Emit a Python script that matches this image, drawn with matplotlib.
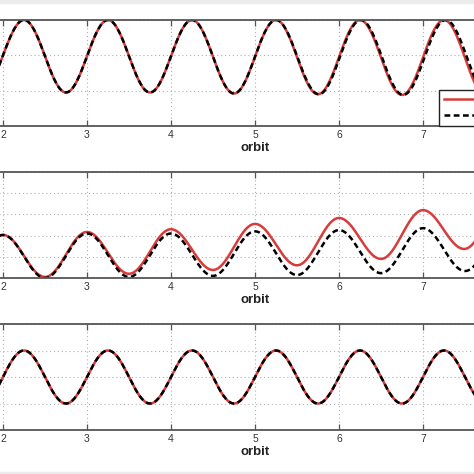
import numpy as np
import matplotlib
matplotlib.use("Agg")
import matplotlib.pyplot as plt
from matplotlib.lines import Line2D
from matplotlib.patches import Rectangle

# ---- data: extrema (orbit position, value) ----
# top panel
top_red_x = [1.75, 2.25, 2.75, 3.25, 3.75, 4.25, 4.75, 5.25, 5.75, 6.25, 6.75, 7.25, 7.75]
top_red_y = [-1.0, 1.0, -1.05, 1.0, -1.05, 1.0, -1.08, 1.0, -1.1, 1.0, -1.12, 1.0, -1.14]
top_blk_x = [1.75, 2.25, 2.75, 3.25, 3.75, 4.25, 4.75, 5.25, 5.76, 6.26, 6.765, 7.27, 7.78]
top_blk_y = [-1.0, 1.0, -1.05, 1.0, -1.05, 1.0, -1.08, 1.0, -1.1, 1.0, -1.12, 1.0, -1.14]
# middle panel
mid_red_x = [1.5, 2.0, 2.5, 3.0, 3.5, 4.0, 4.5, 5.0, 5.5, 6.0, 6.5, 7.0, 7.49, 7.98]
mid_red_y = [0.05, 2.03, 0.05, 2.17, 0.2, 2.3, 0.38, 2.55, 0.6, 2.83, 0.9, 3.2, 1.37, 3.6]
mid_blk_x = [1.5, 2.0, 2.5, 3.0, 3.5, 4.0, 4.5, 5.0, 5.5, 6.0, 6.5, 7.0, 7.5, 8.0]
mid_blk_y = [0.05, 2.03, 0.0, 2.1, 0.05, 2.1, 0.1, 2.2, 0.14, 2.26, 0.23, 2.35, 0.33, 2.45]
# bottom panel
bot_red_x = [1.75, 2.25, 2.75, 3.25, 3.75, 4.25, 4.75, 5.25, 5.75, 6.25, 6.75, 7.25, 7.75]
bot_red_y = [-1.0, 1.0, -1.0, 1.0, -1.0, 1.0, -1.0, 1.0, -1.0, 1.0, -1.0, 1.0, -1.0]
bot_blk_x = bot_red_x
bot_blk_y = bot_red_y

xticks = [2, 3, 4, 5, 6, 7]
xlabel = "orbit"

RED = "#d93b3b"
SPINE = "#555555"
LW = 1.8
DASH = (0, (2.3, 1.4))


def smooth(xs, ys, n=40):
    """Smooth half-cosine rendering between consecutive read extrema."""
    px, py = [], []
    for i in range(len(xs) - 1):
        t = np.linspace(0, 1, n, endpoint=False)
        w = (1 - np.cos(np.pi * t)) / 2
        px.append(xs[i] + (xs[i + 1] - xs[i]) * t)
        py.append(ys[i] + (ys[i + 1] - ys[i]) * w)
    px.append([xs[-1]])
    py.append([ys[-1]])
    return np.concatenate(px), np.concatenate(py)


plt.rcParams["font.family"] = ["Liberation Sans", "DejaVu Sans"]

W = 474.0
fig = plt.figure(figsize=(4.74, 4.74), dpi=100)
fig.patch.set_facecolor("white")

# axes in pixel coordinates: data x=2 at px 3, 84 px per orbit
xl = (1.5, 8.5)
left_px = 3 + (xl[0] - 2) * 84
width_px = (xl[1] - xl[0]) * 84

panels = [
    (20, 126, (-2, 1), [-2, -1, 0, 1], (top_red_x, top_red_y), (top_blk_x, top_blk_y)),
    (172, 278, (0, 5), [0, 1, 2, 3, 4, 5], (mid_red_x, mid_red_y), (mid_blk_x, mid_blk_y)),
    (324, 430, (-2, 2), [-2, -1, 0, 1, 2], (bot_red_x, bot_red_y), (bot_blk_x, bot_blk_y)),
]

axes = []
for top, bot, yl, yt, red, blk in panels:
    ax = fig.add_axes([left_px / W, (W - bot) / W, width_px / W, (bot - top) / W])
    ax.set_xlim(*xl)
    ax.set_ylim(*yl)
    ax.set_xticks(xticks)
    ax.set_yticks(yt)
    ax.set_yticklabels([])
    ax.grid(True, linestyle=(0, (1, 2.5)), color="#b0b0b0", linewidth=0.8)
    ax.tick_params(direction="in", top=True, right=True, length=4, width=0.9,
                   color=SPINE, labelsize=7.5, labelcolor="#333333", pad=3)
    for s in ax.spines.values():
        s.set_color(SPINE)
        s.set_linewidth(1.3)
    rx, ry = smooth(*red)
    bx, by = smooth(*blk)
    ax.plot(rx, ry, color=RED, lw=LW, solid_capstyle="round")
    ax.plot(bx, by, color="black", lw=LW, linestyle=DASH)
    ax.set_xlabel(xlabel, fontsize=9.5, fontweight="bold", color="#222222", labelpad=1)
    axes.append(ax)

# legend (cut by the right edge as in the reference)
handles = [Line2D([], [], color=RED, lw=LW),
           Line2D([], [], color="black", lw=LW, linestyle=DASH)]
leg = axes[0].legend(handles, [" ", " "], loc="lower left",
                     bbox_to_anchor=(439 / W, (W - 126) / W), bbox_transform=fig.transFigure,
                     borderaxespad=0, fancybox=False, framealpha=1, fontsize=8,
                     handlelength=3.5, borderpad=0.45, labelspacing=0.55)
leg.get_frame().set_edgecolor("#222222")
leg.get_frame().set_linewidth(1.0)

# light strips at the very top and bottom of the picture
fig.patches.append(Rectangle((0, 1 - 3 / W), 1, 3 / W, transform=fig.transFigure,
                             color="#ececec", zorder=0))
fig.patches.append(Rectangle((0, 0), 1, 2 / W, transform=fig.transFigure,
                             color="#ececec", zorder=0))

fig.savefig("out.png", dpi=100)
